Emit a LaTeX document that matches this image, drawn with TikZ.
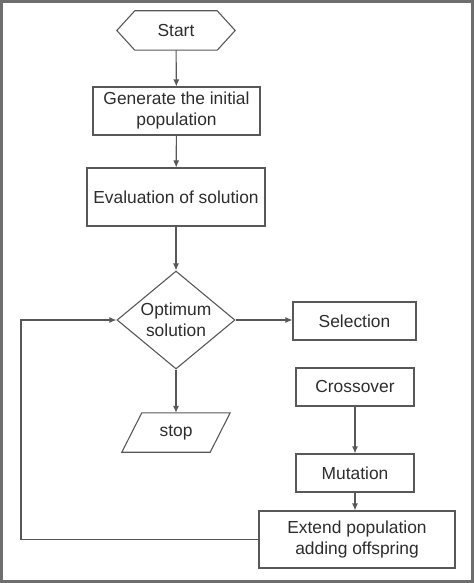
\documentclass[tikz,border=0pt]{standalone}
\usepackage{fontspec}
\setmainfont{Liberation Sans}
\usetikzlibrary{arrows.meta,shapes.geometric}
\definecolor{linec}{RGB}{88,88,88}
\definecolor{txtc}{RGB}{45,45,45}
\definecolor{framec}{RGB}{110,110,110}
\begin{document}
\begin{tikzpicture}[x=1pt,y=-1pt,
  every node/.style={font=\fontsize{17.4}{21}\selectfont, text=txtc},
  procbox/.style={draw=linec, line width=1.1pt, rectangle, inner sep=0pt, align=center},
  bare/.style={draw=none, inner sep=0pt, align=center},
  conn/.style={draw=linec, line width=1.1pt, -{Latex[length=7pt,width=6pt]}},
  plain/.style={draw=linec, line width=1.1pt}
]
\useasboundingbox (0,0) rectangle (474,583);
\draw[framec, line width=2.6pt] (1.3,1.3) rectangle (472.7,581.7);

\node[bare, minimum width=118pt, minimum height=39pt] (start) at (176,30.5) {Start};
\draw[plain] (start.west) -- ([xshift=18pt]start.north west) -- ([xshift=-18pt]start.north east)
  -- (start.east) -- ([xshift=-18pt]start.south east) -- ([xshift=18pt]start.south west) -- cycle;

\node[procbox, minimum width=167pt, minimum height=48pt] (gen) at (176.5,111) {Generate the initial\\population};
\node[procbox, minimum width=178pt, minimum height=58pt] (eval) at (176,197) {Evaluation of solution};
\node[diamond, draw=linec, line width=1.1pt, inner sep=0pt, minimum width=118pt, minimum height=98pt,
  label={[align=center, text=txtc]center:Optimum\\solution}] (opt) at (176,320) {};
\node[procbox, minimum width=123pt, minimum height=38pt] (sel) at (354.5,321) {Selection};
\node[procbox, minimum width=118pt, minimum height=38pt] (cross) at (355,387) {Crossover};
\node[procbox, minimum width=118pt, minimum height=38pt] (mut) at (355,473) {Mutation};
\node[procbox, minimum width=196pt, minimum height=57pt] (ext) at (357,539.5) {Extend population\\adding offspring};

\node[bare, minimum width=108pt, minimum height=39pt] (stop) at (176,432.5) {stop};
\draw[plain] (stop.south west) -- ([xshift=-20pt]stop.south east) -- (stop.north east)
  -- ([xshift=20pt]stop.north west) -- cycle;

\coordinate (loop) at (21,0);

\draw[conn] (start) -- (gen);
\draw[conn] (gen) -- (eval);
\draw[conn] (eval) -- (opt);
\draw[conn] (opt.east) -- (opt.east -| sel.west);
\draw[conn] (opt) -- (stop);
\draw[conn] (cross) -- (mut);
\draw[conn] (mut) -- (mut |- ext.north);
\draw[conn] (ext.west) -- (ext.west -| loop) |- (opt.west);
\end{tikzpicture}
\end{document}
